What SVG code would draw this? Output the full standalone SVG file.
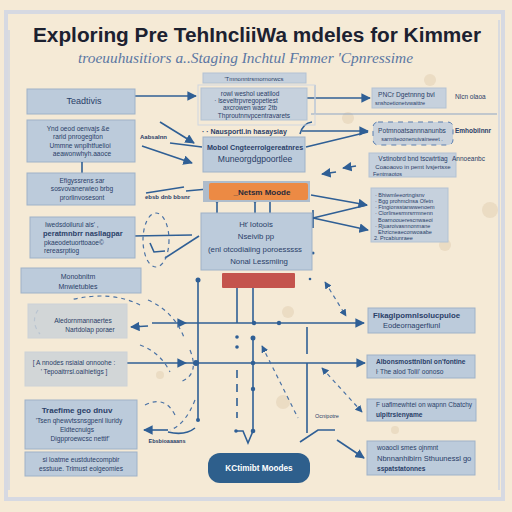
<svg xmlns="http://www.w3.org/2000/svg" width="512" height="512" viewBox="0 0 512 512">
<defs>
<marker id="ah" viewBox="0 0 10 10" refX="9" refY="5" markerWidth="6" markerHeight="6" orient="auto-start-reverse"><path d="M0,0 L10,5 L0,10 z" fill="#2f5f95"/></marker>
<style>
.box{fill:#bccbdb;stroke:#9fb2c8;stroke-width:1}
.lbox{fill:#c6d1dd;stroke:#b3c2d3;stroke-width:1}
.fbox{fill:#cdd3d8;stroke:#c6ced8;stroke-width:1;opacity:.85}
.t{font-family:"Liberation Sans",Arial,sans-serif;font-size:6.6px;fill:#2a4068;text-anchor:middle}
.l{text-anchor:start}
.b{font-weight:bold}
.ln{stroke:#2f5f95;stroke-width:1.6;fill:none}
.thin{stroke:#8da5c4;stroke-width:1;fill:none}
.ds{stroke:#4a72a5;stroke-width:1.2;fill:none;stroke-dasharray:4 4}
.dot{fill:#2f5f95}
.blot{fill:#e2d0b4;opacity:.55}
</style>
</defs>
<rect width="512" height="512" fill="#f5ead6"/>
<g id="blots">
<circle class="blot" cx="348" cy="118" r="6"/><circle class="blot" cx="490" cy="210" r="8"/><circle class="blot" cx="445" cy="245" r="6"/>
<circle class="blot" cx="283" cy="402" r="7"/><circle class="blot" cx="288" cy="312" r="6"/><circle class="blot" cx="430" cy="80" r="6"/>
<circle class="blot" cx="395" cy="430" r="4"/><circle class="blot" cx="160" cy="375" r="4"/>
</g>
<rect x="6" y="12" width="497" height="487" fill="none" stroke="#d6d9e2" stroke-width="4"/>
<line x1="9" y1="30" x2="9" y2="490" stroke="#cfd6e2" stroke-width="1.5"/>
<line x1="499" y1="20" x2="499" y2="490" stroke="#cfd6e2" stroke-width="1.5"/>
<text x="33" y="42" textLength="448" lengthAdjust="spacingAndGlyphs" font-family="'Liberation Sans',Arial,sans-serif" font-weight="bold" font-size="20" fill="#1c2130">Exploring  Pre TehIncliiWa mdeles for Kimmer</text>
<text x="78" y="63" textLength="335" lengthAdjust="spacingAndGlyphs" font-family="'Liberation Serif','Times New Roman',serif" font-style="italic" font-size="15" fill="#5b77a3">troeuuhusitiors a..Staging Inchtul Fmmer 'Cpnressime</text>

<g id="connectors">
<line class="ln" x1="135" y1="96" x2="196" y2="96" marker-end="url(#ah)"/>
<line class="ln" x1="160" y1="122" x2="194" y2="143" marker-end="url(#ah)"/>
<line class="ln" x1="170" y1="143" x2="202" y2="147"/>
<line class="ln" x1="142" y1="146" x2="192" y2="163" marker-end="url(#ah)"/>
<line class="ln" x1="146" y1="193" x2="184" y2="187"/>
<line class="ln" x1="186" y1="191" x2="208" y2="189"/>
<line class="ln" x1="307" y1="98" x2="370" y2="98" marker-end="url(#ah)"/>
<line class="thin" x1="315" y1="85" x2="315" y2="114"/>
<line class="thin" x1="311" y1="114" x2="497" y2="114"/>
<path class="ln" d="M300,134 Q303,123 312,122" stroke-width="1.2"/>
<line class="ln" x1="302" y1="131" x2="368" y2="131" marker-end="url(#ah)"/>
<line class="ln" x1="306" y1="147" x2="368" y2="132"/>
<line class="ln" x1="336" y1="172" x2="322" y2="174" marker-end="url(#ah)"/>
<line class="ln" x1="356" y1="166" x2="343" y2="168" marker-end="url(#ah)"/>
<line class="ln" x1="311" y1="195" x2="367" y2="205" marker-end="url(#ah)"/>
<line class="ln" x1="313" y1="218" x2="367" y2="205"/>
<line class="ln" x1="313" y1="218" x2="368" y2="230" marker-end="url(#ah)"/>
<line class="ln" x1="313" y1="210" x2="313" y2="228" stroke-width="1.2"/>
<circle class="dot" cx="313" cy="253" r="1.5"/><circle class="dot" cx="310" cy="279" r="1.3"/>
<line class="ln" x1="133" y1="236" x2="192" y2="235"/>
<line class="ln" x1="165" y1="258" x2="199" y2="236"/>
<path class="ln" d="M150,243 L154,252 L165,251" stroke-width="1.4"/>
<ellipse class="ds" cx="156" cy="240" rx="13" ry="27"/>
<line class="ln" x1="217" y1="200" x2="217" y2="213"/><circle class="dot" cx="217" cy="201" r="1.8"/>
<line class="ln" x1="255" y1="200" x2="255" y2="213"/><circle class="dot" cx="255" cy="201" r="1.8"/>
<line class="ln" x1="270" y1="200" x2="270" y2="213"/>
<line class="ln" x1="198" y1="280" x2="198" y2="420"/>
<circle class="dot" cx="198" cy="280" r="2.5"/><circle class="dot" cx="198" cy="420" r="2"/>
<line class="ln" x1="237" y1="288" x2="237" y2="323"/>
<line class="ln" x1="253" y1="288" x2="253" y2="323"/>
<line class="ln" x1="152" y1="323" x2="186" y2="323" marker-end="url(#ah)"/>
<line class="ln" x1="186" y1="323" x2="364" y2="323" marker-end="url(#ah)"/>
<circle class="dot" cx="254" cy="323" r="2.2"/><circle class="dot" cx="279" cy="323" r="2.2"/>
<line class="ln" x1="148" y1="326" x2="131" y2="327" marker-end="url(#ah)"/>
<circle class="dot" cx="237" cy="337" r="1.8"/><circle class="dot" cx="237" cy="347" r="1.8"/>
<line class="ln" x1="253" y1="338" x2="253" y2="362"/><circle class="dot" cx="253" cy="338" r="2.5"/>
<line class="ln" x1="307" y1="327" x2="307" y2="354"/>
<line class="ln" x1="127" y1="363" x2="186" y2="363" marker-end="url(#ah)"/>
<line class="ln" x1="186" y1="363" x2="365" y2="363" marker-end="url(#ah)"/>
<circle class="dot" cx="196" cy="363" r="3"/><circle class="dot" cx="253" cy="363" r="2.3"/>
<line class="ln" x1="237" y1="370" x2="237" y2="418" stroke-dasharray="8 6"/>
<line class="ln" x1="253" y1="363" x2="253" y2="431"/><circle class="dot" cx="253" cy="389" r="2.2"/>
<circle class="dot" cx="236" cy="431" r="1.8"/><circle class="dot" cx="253" cy="431" r="2.3"/>
<path class="ln" d="M236,431 L243,431 L248,443 L253,431"/>
<line class="ln" x1="307" y1="363" x2="307" y2="433"/>
<path class="ln" d="M300,442 L318,430 L335,430" stroke-width="1.3"/>
<line class="ln" x1="337" y1="440" x2="364" y2="458" marker-end="url(#ah)"/>
<line class="ds" x1="325" y1="282" x2="346" y2="316" marker-start="url(#ah)" marker-end="url(#ah)"/>
<line class="ds" x1="262" y1="346" x2="298" y2="418" marker-start="url(#ah)"/>
<line class="ds" x1="322" y1="368" x2="362" y2="412" marker-start="url(#ah)" marker-end="url(#ah)"/>
<path class="ds" d="M140,305 Q110,290 70,300"/>
<path class="ds" d="M38,310 Q30,322 40,334"/>
<path class="ds" d="M148,300 Q175,312 185,340"/>
<path class="ds" d="M140,345 Q160,352 170,372"/>
<path class="ds" d="M190,350 Q200,375 180,382"/>
<path class="ds" d="M145,405 Q165,395 175,415"/>
<path class="ds" d="M195,400 Q185,425 170,430"/>
<path class="ln" d="M168,432 Q185,436 195,428" stroke-width="1.2"/>
<line class="ln" x1="168" y1="430" x2="144" y2="430" marker-end="url(#ah)"/>
</g>

<g id="n1"><rect class="box" x="27" y="89" width="108" height="25"/><text class="t" x="84" y="104" style="font-size:9px">Teadtivis</text></g>
<g id="n2"><rect class="box" x="27" y="120" width="108" height="42"/>
<text class="t" x="78" y="131">Ynd oeod oenvajs &amp;e</text><text class="t" x="78" y="139">rarid pnrogegiton</text><text class="t" x="80" y="148">Ummne wnplhtfuelioi</text><text class="t" x="82" y="156">aeawonwhyh.aaoce</text></g>
<line class="ln" x1="82" y1="162" x2="82" y2="173"/>
<g id="n3"><rect class="box" x="27" y="173" width="108" height="32"/>
<text class="t" x="82" y="183">Efigyssrens sar</text><text class="t" x="82" y="191">sosvovanerwieo brbg</text><text class="t" x="82" y="200">prorlinvosesont</text></g>
<g id="n4"><rect class="box" x="30" y="217" width="105" height="41"/>
<text class="t l" x="45" y="227">Iwedsdoilurul ais' ,</text><text class="t l b" x="43" y="236" style="font-size:7.5px">peratmnbrr nasllagpar</text><text class="t l" x="44" y="245">pkaeodetuorttoaoe©</text><text class="t l" x="44" y="253">rereasrptiog</text></g>
<g id="n5"><rect class="box" x="21" y="268" width="120" height="25"/>
<text class="t" x="78" y="279" style="font-size:7px">Monobnitm</text><text class="t" x="78" y="289" style="font-size:7px">Mnwietubles</text></g>
<g id="n6"><rect class="fbox" x="28" y="304" width="99" height="34"/>
<text class="t" x="83" y="323">Aledornmannaertes</text><text class="t" x="90" y="332">Nartdolap poraer</text></g>
<g id="n7"><rect class="fbox" x="25" y="352" width="102" height="34"/>
<text class="t" x="74" y="365">[ A nnodes nsiaial onnoohe :</text><text class="t" x="74" y="374">' Tepoaitrrsl.oaihietigs ]</text></g>
<g id="n8"><rect class="box" x="25" y="400" width="112" height="49"/>
<text class="t b" x="77" y="413" style="font-size:8px">Traefime geo dnuv</text><text class="t" x="79" y="423">'Tsen qhewvtssnsgpenl liuridy</text><text class="t" x="77" y="432">Eldtecnuigs</text><text class="t" x="80" y="441">Digpproewcsc nettif'</text></g>
<g id="n9"><rect class="box" x="25" y="452" width="112" height="24"/>
<text class="t" x="81" y="462">si  loatme eustdutecompbir</text><text class="t" x="81" y="471">esstuue.  Trimust  eolgeomies</text></g>

<g id="c0"><rect class="lbox" x="203" y="73" width="103" height="10"/><text class="t" x="254" y="81" style="font-size:6px">'Tmnonntrsmornorwcs</text></g>
<g id="c1"><rect x="198" y="85" width="117" height="40" fill="none" stroke="#cfd6e0"/><rect class="lbox" x="201" y="88" width="106" height="32"/>
<text class="t" x="250" y="96" style="font-size:6.5px">rowl weshol ueatilod</text><text class="t" x="246" y="103" style="font-size:6.5px">· lseveltrpvregopetiest</text><text class="t" x="250" y="110" style="font-size:6.5px">axcrowen wasr  2tb</text><text class="t" x="254" y="118" style="font-size:6.5px">Thproutnnvpcentravarets</text></g>
<text class="t l b" x="202" y="134" style="font-size:7px">·  ·  Nausportl.in hasaysiay</text>
<text class="t l b" x="140" y="139" style="font-size:6px">Aabsalnn</text>
<text class="t l b" x="145" y="199" style="font-size:6px">ebsb dnb bbsnr</text>
<g id="c2"><rect class="box" x="203" y="137" width="102" height="35"/>
<text class="t b" x="255" y="150" style="font-size:7.2px">Mobol Cngteerrolgereatnres</text><text class="t" x="255" y="162" style="font-size:8.6px">Muneorgdgpoortlee</text></g>
<g id="c3"><rect x="203" y="181" width="107" height="21" fill="#aebccb"/><rect x="209" y="183" width="99" height="17" rx="2" fill="#ec8a44"/>
<text class="t b" x="262" y="195" style="font-size:8px;fill:#2a2a3a">_Netsm Moode</text></g>
<g id="c4"><rect class="box" x="201" y="213" width="111" height="57"/>
<text class="t" x="256" y="227" style="font-size:7.8px">Hť Iotoois</text><text class="t" x="256" y="239" style="font-size:7.8px">Nseivib pp</text><text class="t" x="255" y="252" style="font-size:7.8px">(enl otcodiaiing poroesssss</text><text class="t" x="259" y="264" style="font-size:7.8px">Nonal Lessmiing</text></g>
<g id="c5"><rect x="222" y="273" width="73" height="15" rx="1" fill="#c4544d"/></g>
<g id="c6"><rect x="208" y="453" width="102" height="30" rx="12" fill="#2e5f8c"/><text class="t b" x="259" y="471" style="font-size:8.2px;fill:#ffffff">KCtimibt Moodes</text></g>

<g id="r1"><rect class="lbox" x="372" y="88" width="74" height="20"/><text class="t l" x="378" y="97">PNCr Dgetnnng   bvl</text><text class="t l" x="375" y="105" style="font-size:5.5px">snshoetionetvwaittre</text></g>
<text class="t l" x="455" y="99" style="font-size:6.5px">Nlcn olaoa</text>
<g id="r2"><rect x="373" y="122" width="80" height="23" rx="5" fill="#c9d2dc" stroke="#5a7fb0" stroke-dasharray="5 5"/><text class="t" x="412" y="133">Potmnoatsannnanunbs</text><text class="t" x="412" y="141" style="font-size:5.5px">sarmiteoonenuivaineeet .</text></g>
<text class="t l b" x="455" y="133" style="font-size:6.5px">Emhobilnnr</text>
<g id="r3"><rect class="lbox" x="369" y="153" width="87" height="24"/><text class="t" x="413" y="161" style="font-size:6.5px">Vstinobrd bnd tscwtrtiag</text><text class="t" x="413" y="169" style="font-size:6px">Coaoaovo in pemt lvsjertsxe</text><text class="t l" x="373" y="176" style="font-size:5.5px">Fentmaotos</text></g>
<text class="t l" x="452" y="161" style="font-size:6.5px">Annoeanbc</text>
<g id="r4"><rect class="lbox" x="371" y="188" width="77" height="54"/>
<text class="t l" x="375" y="197" style="font-size:5.5px">· Bhiwmleeortngisnv</text><text class="t l" x="375" y="203" style="font-size:5.5px">· Bgg prohmclnsa Ofetn</text><text class="t l" x="375" y="209" style="font-size:5.5px">· Ftngionsstanwwenoem</text><text class="t l" x="375" y="215" style="font-size:5.5px">· Clorlirsesrmrsrrmnenn</text><text class="t l" x="378" y="222" style="font-size:5.5px">Boarnoouerescnwaeoi</text><text class="t l" x="375" y="228" style="font-size:5.5px">· Rjuaroivasnnonmane</text><text class="t l" x="378" y="234" style="font-size:5.5px">Ehzicneaeconwoaabe</text><text class="t l" x="374" y="240" style="font-size:5.5px">2. Prcabiunraee</text></g>
<g id="r5"><rect class="box" x="368" y="308" width="107" height="25"/><text class="t l b" x="373" y="318" style="font-size:7.8px">Flkaglpomnlsolucpuloe</text><text class="t l" x="383" y="328" style="font-size:7.5px">Eodeornagerfiunl</text></g>
<g id="r6"><rect class="box" x="367" y="355" width="108" height="23"/><text class="t l b" x="376" y="364">Albonsmosttnlbnl on'fontine</text><text class="t l" x="376" y="374">ŀ The alod Tolii' oonoso</text></g>
<g id="r7"><rect class="box" x="367" y="399" width="109" height="22"/><text class="t l" x="376" y="407" style="font-size:6.5px">F uaflmewhtei on wapnn Cbatchy</text><text class="t l b" x="376" y="417">ulpitrsienyame</text></g>
<g id="r8"><rect class="box" x="367" y="441" width="108" height="34"/><text class="t l" x="377" y="450">woaocli smes ojnmnt</text><text class="t l" x="377" y="461" style="font-size:7.5px">Nbnnanhibirn Sthuunessl  go</text><text class="t l b" x="377" y="471">sspatstatonnes</text></g>
<text class="t" x="327" y="418" style="font-size:5.5px">Ocnipotre</text>
<text class="t b" x="167" y="443" style="font-size:5.5px">Ebsbioaaaans</text>
</svg>
